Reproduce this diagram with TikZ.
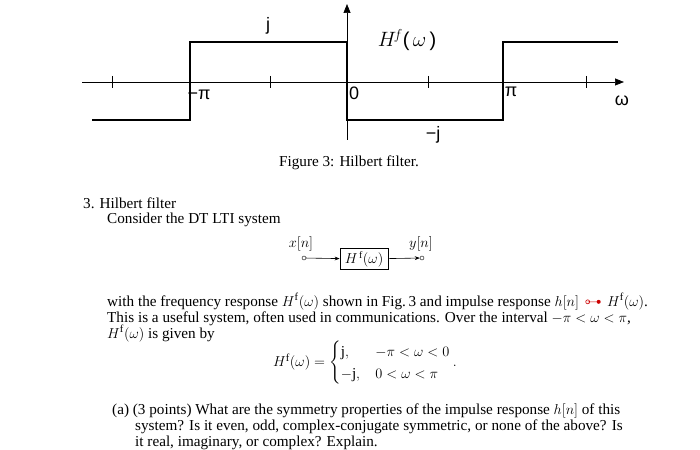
\documentclass[tikz,border=0pt]{standalone}
\usepackage{amsmath}
\usepackage{fontspec}
\setmainfont{Liberation Serif}
\newfontfamily\plotfont{Liberation Sans}
\usetikzlibrary{arrows.meta}
\newcommand{\rdt}{\mathrel{\tikz[baseline=-0.6ex]{\draw[red!80!black,line width=0.6pt] (0,0) circle (2pt) -- (11pt,0); \fill[red!80!black] (11pt,0) circle (2pt);}}}
\begin{document}
\begin{tikzpicture}[x=1pt,y=-1pt,
  sig/.style={line width=1.8pt},
  ax/.style={line width=0.7pt},
  plab/.style={font=\plotfont\fontsize{18}{20}\selectfont,inner sep=0},
  txt/.style={font=\fontsize{15.2}{18}\selectfont,anchor=base west,inner sep=0}]
\useasboundingbox (0,0) rectangle (700,449);
% axes
\coordinate (xa) at (82,82); \coordinate (xb) at (624,82);
\draw[ax,-{Triangle[length=9pt,width=7pt]}] (xa) -- (xb);
\coordinate (ya) at (347,140); \coordinate (yb) at (347,4);
\draw[ax,-{Triangle[length=9pt,width=7pt]}] (ya) -- (yb);
\foreach \x in {112,270,428,586} \draw[ax] (\x,76) -- (\x,88);
% signal
\draw[sig] (92,120) -- (190,120) -- (190,42) -- (347,42) -- (347,120) -- (503,120) -- (503,42) -- (618,42);
\node[plab] (lj) at (268,26) {j};
\node[plab] (lH) at (407,40) {\fontsize{20}{22}\selectfont$H^{\!f}$(\,$\omega$\,)};
\node[plab] (lmp) at (199,95) {−π};
\node[plab] (l0) at (354,93) {0};
\node[plab] (lp) at (511,92) {π};
\node[plab] (lw) at (622,101) {ω};
\node[plab] (lmj) at (433,135) {−j};
\node[font=\fontsize{15.2}{18}\selectfont] (cap) at (349,163) {Figure 3: Hilbert filter.};
% text
\node[txt] (t1) at (83,208) {3. Hilbert filter};
\node[txt] (t2) at (107,223) {Consider the DT LTI system};
% block
\node[draw,line width=0.7pt,minimum width=48pt,minimum height=21pt,inner sep=0,font=\fontsize{14}{16}\selectfont] (blk) at (364,259) {$H^{\,\mathrm f}(\omega)$};
\node[circle,draw,inner sep=0,minimum size=4pt] (in) at (304,258) {};
\node[circle,draw,inner sep=0,minimum size=4pt] (out) at (422,258) {};
\draw[-{Stealth[length=5pt]},line width=0.6pt] (in) -- (blk);
\draw[-{Stealth[length=5pt]},line width=0.6pt] (blk) -- (out);
\node[font=\fontsize{13.5}{15}\selectfont] (xn) at (301,244) {$x[n]$};
\node[font=\fontsize{13.5}{15}\selectfont] (yn) at (421,244) {$y[n]$};
\node[txt] (t3) at (107,306) {with the frequency response $H^{\mathrm f}(\omega)$ shown in Fig.\,3 and impulse response $h[n]\,\rdt\,H^{\mathrm f}(\omega)$.};
\node[txt] (t4) at (107,322) {This is a useful system, often used in communications. Over the interval $-\pi<\omega<\pi$,};
\node[txt] (t5) at (107,338) {$H^{\mathrm f}(\omega)$ is given by};
\node[font=\fontsize{15.2}{18}\selectfont,inner sep=0] (eq) at (365,363) {$H^{\mathrm f}(\omega)=\begin{cases}\mathrm{j}, & -\pi<\omega<0\\ -\mathrm{j}, & 0<\omega<\pi\end{cases}.$};
\node[txt] (a1) at (112,414) {(a) (3 points) What are the symmetry properties of the impulse response $h[n]$ of this};
\node[txt] (a2) at (135,430) {system? Is it even, odd, complex-conjugate symmetric, or none of the above? Is};
\node[txt] (a3) at (135,446) {it real, imaginary, or complex? Explain.};
\end{tikzpicture}
\end{document}
